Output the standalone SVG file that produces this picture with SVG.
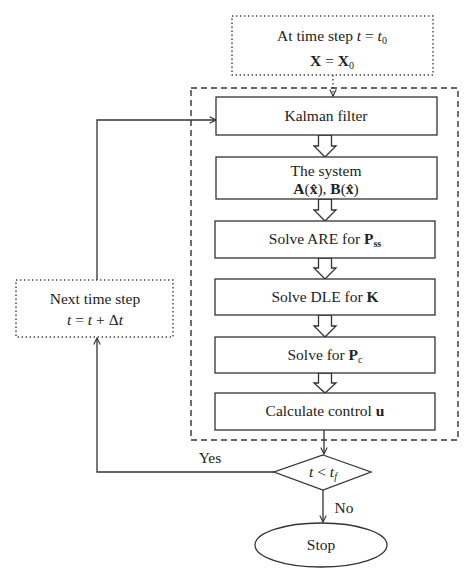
<svg xmlns="http://www.w3.org/2000/svg" width="474" height="583" viewBox="0 0 474 583">
<defs>
<style>
text{font-family:"Liberation Serif","Times New Roman",serif;font-size:15.5px;fill:#222;text-anchor:middle}
.b{font-weight:bold}
.i{font-style:italic}
.box{fill:#fff;stroke:#333;stroke-width:1.3}
.dot{fill:#fff;stroke:#444;stroke-width:1.4;stroke-dasharray:1.4 2.6}
.dash{fill:none;stroke:#333;stroke-width:1.4;stroke-dasharray:6 4}
.line{fill:none;stroke:#333;stroke-width:1.3}
.hollow{fill:#fff;stroke:#333;stroke-width:1.3;stroke-linejoin:miter}
</style>
<marker id="chev" viewBox="0 0 10 10" refX="9" refY="5" markerWidth="8" markerHeight="8" markerUnits="userSpaceOnUse" orient="auto">
<path d="M1,1 L9,5 L1,9" fill="none" stroke="#333" stroke-width="1.4"/>
</marker>
</defs>
<rect width="474" height="583" fill="#fff"/>

<g id="loop-region">
<rect class="dash" x="191" y="88" width="267" height="352"/>
</g>

<g id="connectors">
<line class="line" x1="333" y1="75" x2="333" y2="96" stroke-dasharray="1.4 2.6" marker-end="url(#chev)"/>
<polygon class="hollow" points="318.5,135 331.5,135 331.5,146 336,146 325,157 314,146 318.5,146"/>
<polygon class="hollow" points="318.5,199 331.5,199 331.5,210 336,210 325,221 314,210 318.5,210"/>
<polygon class="hollow" points="318.5,258 331.5,258 331.5,268 336,268 325,279 314,268 318.5,268"/>
<polygon class="hollow" points="318.5,315 331.5,315 331.5,326 336,326 325,337 314,326 318.5,326"/>
<polygon class="hollow" points="318.5,373 331.5,373 331.5,383 336,383 325,393 314,383 318.5,383"/>
<line class="line" x1="324" y1="430" x2="324" y2="454" marker-end="url(#chev)"/>
<polyline class="line" points="274,472 97,472 97,338" marker-end="url(#chev)"/>
<polyline class="line" points="97,280 97,120 216,120" marker-end="url(#chev)"/>
<line class="line" x1="323" y1="490" x2="323" y2="522" marker-end="url(#chev)"/>
<text x="210" y="463">Yes</text>
<text x="344" y="513">No</text>
</g>

<g id="start">
<rect class="dot" x="232" y="16" width="201" height="59"/>
<text x="332" y="41">At time step <tspan class="i">t</tspan> = <tspan class="i">t</tspan><tspan font-size="10" dy="3">0</tspan></text>
<text x="332" y="66"><tspan class="b">X</tspan> = <tspan class="b">X</tspan><tspan font-size="10" dy="3">0</tspan></text>
</g>

<g id="kalman">
<rect class="box" x="216" y="97" width="221" height="38"/>
<text x="326" y="121">Kalman filter</text>
</g>

<g id="system">
<rect class="box" x="216" y="157" width="221" height="42"/>
<text x="326" y="176">The system</text>
<text x="326" y="194"><tspan class="b">A</tspan>(<tspan class="b">x̂</tspan>), <tspan class="b">B</tspan>(<tspan class="b">x̂</tspan>)</text>
</g>

<g id="are">
<rect class="box" x="215" y="221" width="220" height="37"/>
<text x="325" y="244">Solve ARE for <tspan class="b">P</tspan><tspan class="b" font-size="10" dy="3">ss</tspan></text>
</g>

<g id="dle">
<rect class="box" x="215" y="279" width="220" height="36"/>
<text x="325" y="302">Solve DLE for <tspan class="b">K</tspan></text>
</g>

<g id="pc">
<rect class="box" x="215" y="337" width="220" height="36"/>
<text x="325" y="360">Solve for <tspan class="b">P</tspan><tspan font-size="10" dy="3">c</tspan></text>
</g>

<g id="control">
<rect class="box" x="215" y="393" width="220" height="37"/>
<text x="325" y="416">Calculate control <tspan class="b">u</tspan></text>
</g>

<g id="next">
<rect class="dot" x="16" y="280" width="157" height="57"/>
<text x="95" y="304">Next time step</text>
<text x="95" y="325"><tspan class="i">t</tspan> = <tspan class="i">t</tspan> + Δ<tspan class="i">t</tspan></text>
</g>

<g id="decision">
<polygon class="box" points="323,455 371,472 323,490 274,472"/>
<text x="323" y="477"><tspan class="i">t</tspan> &lt; <tspan class="i">t</tspan><tspan class="i" font-size="10" dy="3">f</tspan></text>
</g>

<g id="stop">
<ellipse class="box" cx="321" cy="545" rx="66" ry="22"/>
<text x="321" y="550">Stop</text>
</g>
</svg>
